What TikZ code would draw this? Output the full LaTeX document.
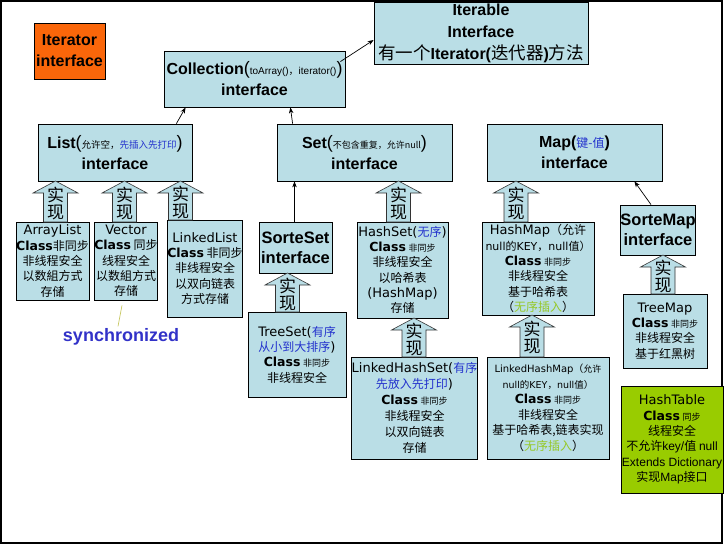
\documentclass[tikz,border=0pt]{standalone}
\usepackage{fontspec}
\setmainfont{Liberation Sans}
\newfontfamily\dvf{DejaVu Sans}
\newfontfamily\zhf{Noto Sans CJK SC}
\usetikzlibrary{arrows.meta}
\definecolor{lblue}{RGB}{186,222,230}
\definecolor{orng}{RGB}{250,102,10}
\definecolor{htgreen}{RGB}{153,204,0}
\definecolor{zblue}{RGB}{35,50,205}
\definecolor{zgreen}{RGB}{150,200,40}
\definecolor{syncblue}{RGB}{50,50,200}
\definecolor{synline}{RGB}{200,200,100}
\newcommand\fsz[2]{\fontsize{#1}{#2}\selectfont}
\newcommand\zs[2]{{\mdseries\zhf\fsz{#1}{15}#2}}
\newcommand\lt[1]{{\dvf\fsz{13}{15}#1}}
\newcommand\ls[1]{{\rmfamily\fsz{12}{15}#1}}
\newcommand\cls{{\dvf\bfseries\fsz{12.5}{15}Class}}
\newcommand\sm[1]{{\fsz{9}{15}#1}}
\tikzset{
  box/.style={draw=black, line width=0.8pt, fill=lblue, inner sep=0pt, align=center},
  titlebox/.style={box, font=\fsz{16}{21}\bfseries},
  classbox/.style={box, font=\zhf\fsz{12}{15.3}},
  conn/.style={draw=black, line width=0.7pt, -{Stealth[length=6pt,width=4.5pt]}},
  arrowbox/.style={draw=black!80, line width=0.6pt, fill=lblue},
  impltext/.style={inner sep=0pt, align=center, font=\zhf\fsz{17}{17}},
}
\newcommand\implarrow[4]{%
  \draw[arrowbox] ({#2-22.5},{#3+12}) -- (#2,#3) -- ({#2+22.5},{#3+12}) -- ({#2+12},{#3+12})
    -- ({#2+12},#4) -- ({#2-12},#4) -- ({#2-12},{#3+12}) -- cycle;
  \node[impltext] (#1) at (#2,{(#3+#4)/2+2}) {实\\现};
}
\begin{document}
\begin{tikzpicture}[x=1pt,y=-1pt]
\useasboundingbox (0,0) rectangle (725,546);
\draw[line width=1.5pt] (1,1) rectangle (722,543);
\draw[line width=2.5pt] (0,543) -- (723,543);

% top level
\node[titlebox, fill=orng, minimum width=71pt, minimum height=56pt] (iter) at (69.5,51) {Iterator\\interface};
\node[titlebox, font=\fsz{16}{22}\bfseries, minimum width=214pt, minimum height=62pt] (iterable) at (481,33)
  {Iterable\\Interface\\\zs{17.5}{有一个}Iterator(\zs{17.5}{迭代器})\zs{17.5}{方法}};
\node[titlebox, minimum width=181pt, minimum height=56pt] (coll) at (254.5,79)
  {Collection{\mdseries\fsz{18}{21}(}{\mdseries\fsz{10}{21}toArray()\zs{10}{，}iterator()}{\mdseries\fsz{18}{21})}\\interface};
\node[titlebox, minimum width=154pt, minimum height=57pt] (list) at (115,152.5)
  {List{\mdseries\fsz{18}{21}(}\zs{9.5}{允许空，{\color{zblue}先插入先打印}}{\mdseries\fsz{18}{21})}\\interface};
\node[titlebox, minimum width=175pt, minimum height=57pt] (set) at (364.5,152.5)
  {Set{\mdseries\fsz{18}{21}(}\zs{9}{不包含重复，允许null}{\mdseries\fsz{18}{21})}\\interface};
\node[titlebox, minimum width=175pt, minimum height=57pt] (map) at (574.5,152.5)
  {Map(\zs{12}{\color{zblue}键-值})\\interface};
\node[titlebox, font=\fsz{16.5}{20}\bfseries, minimum width=73pt, minimum height=51pt] (sorteset) at (295.5,247.5) {SorteSet\\interface};
\node[titlebox, font=\fsz{16.5}{20}\bfseries, minimum width=72pt, minimum height=50pt] (sortemap) at (658,230) {SorteMap\\interface};

% classes
\node[classbox, minimum width=73pt, minimum height=78pt] (arraylist) at (52.5,261)
  {\lt{ArrayList}\\\cls 非同步\\非线程安全\\以数組方式\\存储};
\node[classbox, minimum width=62pt, minimum height=78pt] (vector) at (126,261)
  {\lt{Vector}\\\cls\ 同步\\线程安全\\以数組方式\\存储};
\node[classbox, minimum width=74pt, minimum height=97pt] (linkedlist) at (205,268.5)
  {\lt{LinkedList}\\\cls\ 非同步\\非线程安全\\以双向链表\\方式存储};
\node[classbox, minimum width=91pt, minimum height=96pt] (hashset) at (402.5,270)
  {\lt{HashSet(}{\color{zblue}无序}\lt{)}\\\cls\ \sm{非同步}\\非线程安全\\以哈希表\\\lt{(HashMap)}\\存储};
\node[classbox, minimum width=98pt, minimum height=85pt] (treeset) at (297,354.5)
  {\lt{TreeSet(}{\color{zblue}有序}\\{\color{zblue}从小到大排序}\lt{)}\\\cls\ \sm{非同步}\\非线程安全};
\node[classbox, font=\zhf\fsz{12}{16}, minimum width=125pt, minimum height=102pt] (linkedhashset) at (414.5,408)
  {\lt{LinkedHashSet(}{\color{zblue}有序}\\{\color{zblue}先放入先打印}\lt{)}\\\cls\ \sm{非同步}\\非线程安全\\以双向链表\\存储};
\node[classbox, minimum width=112pt, minimum height=93pt] (hashmap) at (538,268.5)
  {\lt{HashMap}（允许\\{\fsz{11}{15}{\dvf null}的{\dvf KEY}，{\dvf null}值）}\\\cls\ \sm{非同步}\\非线程安全\\基于哈希表\\（{\color{zgreen}无序插入}）};
\node[classbox, font=\zhf\fsz{12}{15.5}, minimum width=122pt, minimum height=102pt] (linkedhashmap) at (548,408)
  {{\dvf\fsz{10}{15}LinkedHashMap}{\fsz{10}{15}（}\sm{允许}\\{\fsz{9.5}{15}{\dvf null}的{\dvf KEY}，{\dvf null}值）}\\\cls\ \sm{非同步}\\非线程安全\\基于哈希表,链表实现\\（{\color{zgreen}无序插入}）};
\node[classbox, minimum width=84pt, minimum height=74pt] (treemap) at (665,331)
  {\lt{TreeMap}\\\cls\ \sm{非同步}\\非线程安全\\基于红黑树};
\node[classbox, fill=htgreen, minimum width=102pt, minimum height=107pt] (hashtable) at (672,439.5)
  {\lt{HashTable}\\\cls\ \sm{同步}\\线程安全\\不允许\ls{key/}值 \ls{null}\\\ls{Extends Dictionary}\\实现\ls{Map}接口};

% implementation arrows
\implarrow{a1}{55.5}{181}{222}
\implarrow{a2}{124.5}{181}{222}
\implarrow{a3}{180.5}{181}{220}
\implarrow{a4}{398.5}{181}{222}
\implarrow{a5}{287.5}{273}{312}
\implarrow{a6}{414}{318}{357}
\implarrow{a7}{516}{181}{222}
\implarrow{a8}{532}{315}{357}
\implarrow{a9}{663}{255}{294}

% connectors
\draw[conn] ([xshift=-5pt,yshift=-11pt]coll.north east) -- ([yshift=-7pt]iterable.west);
\draw[conn] ([xshift=-16pt]list.north east) -- ([xshift=22pt]coll.south west);
\draw[conn] ([xshift=16pt]set.north west) -- ([xshift=-55pt]coll.south east);
\draw[conn] ([xshift=-1pt]sorteset.north) -- ([xshift=-1pt]sorteset.north |- set.south);
\draw[conn] ([xshift=-7pt]sortemap.north) -- ([xshift=-28pt]map.south east);

% synchronized
\node[font=\fsz{18}{20}\bfseries, text=syncblue, inner sep=0pt] (sync) at (121,337) {synchronized};
\draw[synline, line width=0.7pt] ([xshift=-4pt,yshift=-5pt]vector.south) -- ([xshift=-3pt,yshift=2pt]sync.north);
\end{tikzpicture}
\end{document}
